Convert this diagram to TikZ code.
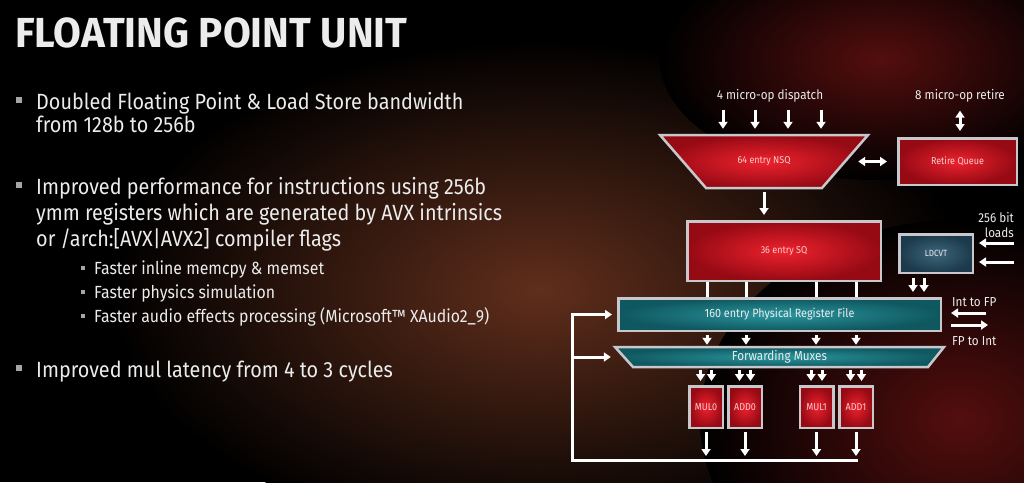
\documentclass[tikz,border=0pt]{standalone}
\usepackage{fontspec}
\setmainfont{Fira Sans}[FakeStretch=0.9]
\newfontfamily\headfont{Fira Sans}[FakeStretch=0.96]
\usetikzlibrary{arrows.meta,positioning}
\usepackage{xcolor}
\definecolor{RedHi}{RGB}{238,34,46}
\definecolor{RedLo}{RGB}{150,10,20}
\definecolor{TealHi}{RGB}{42,150,158}
\definecolor{TealLo}{RGB}{16,88,96}
\definecolor{SlateHi}{RGB}{62,102,122}
\definecolor{SlateLo}{RGB}{28,58,76}
\definecolor{Silver}{RGB}{200,200,204}
\definecolor{TxtGrey}{RGB}{236,236,236}
\definecolor{BulGrey}{RGB}{165,165,165}
\definecolor{LblPink}{RGB}{248,205,205}
\definecolor{BgBrown}{RGB}{96,46,28}
\definecolor{BgRed}{RGB}{84,14,14}
\newcommand{\bigsq}{\makebox[20pt][l]{\textcolor{BulGrey}{\raisebox{6pt}{\rule{6pt}{6pt}}}}}
\newcommand{\smallsq}{\makebox[13pt][l]{\textcolor{BulGrey}{\raisebox{4pt}{\rule{4pt}{4pt}}}}}

\begin{document}
\begin{tikzpicture}[x=1pt, y=-1pt,
            title/.style={anchor=base west, inner sep=0pt, text=TxtGrey, font=\headfont\bfseries\fontsize{42}{46}\selectfont},
            txt/.style={anchor=base west, inner sep=0pt, text=TxtGrey, font=\fontsize{22}{25}\selectfont},
            subtxt/.style={txt, font=\fontsize{17.6}{20}\selectfont},
            lbl/.style={inner sep=0pt, text=TxtGrey, font=\fontsize{13}{15}\selectfont},
            redbox/.style={draw=Silver, line width=2.5pt, shade, inner color=RedHi, outer color=RedLo, text=LblPink, font=\fontsize{10}{12}\selectfont},
            tealbox/.style={draw=Silver, line width=2.5pt, shade, inner color=TealHi, outer color=TealLo, text=TxtGrey, font=\fontsize{12}{14}\selectfont},
            slatebox/.style={draw=Silver, line width=2.5pt, shade, inner color=SlateHi, outer color=SlateLo, text=TxtGrey, font=\fontsize{9}{11}\selectfont},
            redtrap/.style={draw=Silver, line width=2.5pt, inner color=RedHi, outer color=RedLo},
            tealtrap/.style={draw=Silver, line width=2.5pt, inner color=TealHi, outer color=TealLo},
            hold/.style={inner sep=0pt},
            arr/.style={-{Triangle[length=7pt,width=9pt]}, line width=3pt, white},
            dbl/.style={{Triangle[length=7pt,width=9pt]}-{Triangle[length=7pt,width=9pt]}, line width=3pt, white},
            stub/.style={line width=3pt, white}
        ]
            \useasboundingbox (0,0) rectangle (1024,482);
            % background
            \begin{scope}
                \clip (0,0) rectangle (1024,482);
                \fill[black] (0,0) rectangle (1024,482);
                \shade[inner color=BgBrown, outer color=black] (540,290) ellipse [x radius=430, y radius=250];
                \shade[inner color=BgRed, outer color=black] (960,420) ellipse [x radius=260, y radius=200];
                \shade[inner color=BgRed, outer color=black] (880,60) ellipse [x radius=220, y radius=120];
            \end{scope}

            % text
            \node[title] (title) at (15,47) {FLOATING POINT UNIT};
            \node[txt] (b1a) at (16,109) {\bigsq Doubled Floating Point \& Load Store bandwidth};
            \node[txt] (b1b) at (36,132) {from 128b to 256b};
            \node[txt] (b2a) at (16,194) {\bigsq Improved performance for instructions using 256b};
            \node[txt] (b2b) at (36,220) {ymm registers which are generated by AVX intrinsics};
            \node[txt] (b2c) at (36,246) {or /arch:[AVX|AVX2] compiler flags};
            \node[subtxt] (s1) at (81,274) {\smallsq Faster inline memcpy \& memset};
            \node[subtxt] (s2) at (81,298) {\smallsq Faster physics simulation};
            \node[subtxt] (s3) at (81,322) {\smallsq Faster audio effects processing (Microsoft™ XAudio2\_9)};
            \node[txt] (b3) at (16,377) {\bigsq Improved mul latency from 4 to 3 cycles};

            % trapezoids
            \shade[redtrap] (660,135) -- (868,135) -- (822,188) -- (706,188) -- cycle;
            \shade[tealtrap] (615,347) -- (944,347) -- (928,367) -- (633,367) -- cycle;

            % blocks
            \node[hold, minimum width=208pt, minimum height=53pt, text=LblPink, font=\fontsize{10}{12}\selectfont] (nsq) at (764,161.5) {64 entry NSQ};
            \node[redbox, minimum width=118.5pt, minimum height=46.5pt] (rq) at (957.5,161.5) {Retire Queue};
            \node[redbox, minimum width=193.5pt, minimum height=59.5pt] (sq) at (784,251) {36 entry SQ};
            \node[slatebox, minimum width=73.5pt, minimum height=38.5pt] (ldcvt) at (936,253.5) {LDCVT};
            \node[tealbox, minimum width=322.5pt, minimum height=32.5pt] (prf) at (779.5,314.5) {160 entry Physical Register File};
            \node[hold, minimum width=329pt, minimum height=20pt, text=TxtGrey, font=\fontsize{13}{15}\selectfont] (mux) at (779.5,357) {Forwarding Muxes};
            \node[redbox, minimum width=33.5pt, minimum height=41.5pt, inner sep=0pt] (mul0) at (706,407) {MUL0};
            \node[redbox, minimum width=33.5pt, minimum height=41.5pt, inner sep=0pt] (add0) at (745,407) {ADD0};
            \node[redbox, minimum width=33.5pt, minimum height=41.5pt, inner sep=0pt] (mul1) at (816.5,407) {MUL1};
            \node[redbox, minimum width=33.5pt, minimum height=41.5pt, inner sep=0pt] (add1) at (856,407) {ADD1};

            % labels
            \node[lbl] (disp) at (770,96) {4 micro-op dispatch};
            \node[lbl] (ret) at (960,96) {8 micro-op retire};
            \node[lbl, align=right, anchor=north east] (loads) at (1014,212) {256 bit\\loads};
            \node[lbl, anchor=base west] (i2fl) at (952,306) {Int to FP};
            \node[lbl, anchor=base west] (f2il) at (952,345) {FP to Int};

            % columns
            \foreach \cx [count=\i] in {723,755,788,821} \coordinate (d\i) at (\cx,0);
            \foreach \cx [count=\i] in {707,746,816,856} \coordinate (p\i) at (\cx,0);
            \coordinate (l1) at (913,0);
            \coordinate (l2) at (924,0);
            \coordinate (ld1) at (1014,243);
            \coordinate (ld2) at (1014,262);
            \coordinate (i2f) at (986,313);
            \coordinate (f2i) at (988,325);
            \coordinate (fb) at (572,460);

            % connectors
            \foreach \i in {1,...,4}
                \draw[arr, shorten <=7pt, shorten >=6pt] (disp.south -| d\i) -- (nsq.north -| d\i);
            \draw[dbl, shorten <=8pt, shorten >=6pt] (ret.south) -- (ret.south |- rq.north);
            \draw[dbl] ([xshift=-10pt]nsq.east) -- ([xshift=-10pt]rq.west);
            \draw[arr, shorten <=4pt, shorten >=5pt] (nsq.south) -- (nsq.south |- sq.north);
            \foreach \i in {1,...,4} {
                \draw[stub] (sq.south -| p\i) -- (prf.north -| p\i);
                \draw[arr, shorten <=3pt, shorten >=2pt] (prf.south -| p\i) -- (mux.north -| p\i);
            }
            \foreach \i in {1,2} {
                \draw[arr, shorten >=5pt] (ld\i) -- (ld\i -| ldcvt.east);
                \draw[arr, shorten <=4pt, shorten >=5pt] (ldcvt.south -| l\i) -- (prf.north -| l\i);
            }
            \draw[arr, shorten >=9pt] (i2f) -- (i2f -| prf.east);
            \draw[arr, shorten <=9pt] (f2i -| prf.east) -- (f2i);
            \foreach \u in {mul0,add0,mul1,add1} {
                \draw[arr, shorten <=3pt, shorten >=4pt] ([xshift=-5.5pt]\u.north |- mux.south) -- ([xshift=-5.5pt]\u.north);
                \draw[arr, shorten <=3pt, shorten >=4pt] ([xshift=5.5pt]\u.north |- mux.south) -- ([xshift=5.5pt]\u.north);
                \draw[arr, shorten <=3pt, shorten >=4pt] (\u.south) -- (\u.south |- fb);
            }
            \draw[arr] ([xshift=2pt]add1.south |- fb) -- (fb) -- (fb |- prf.west) -- ([xshift=-5pt]prf.west);
            \draw[arr] (fb |- mux.west) -- ([xshift=-4pt]mux.west);
        \end{tikzpicture}
\end{document}
